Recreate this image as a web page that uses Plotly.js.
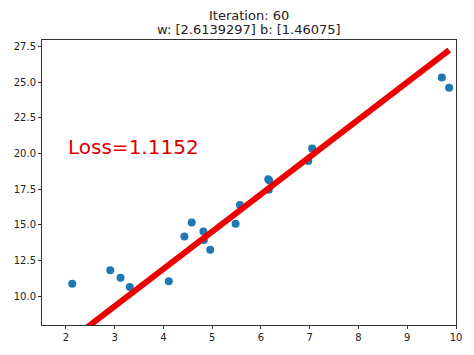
<!DOCTYPE html>
<html>
<head>
<meta charset="utf-8">
<script src="https://cdn.plot.ly/plotly-3.0.1.min.js"></script>
<style>html,body{margin:0;padding:0;background:#fff;}#chart{width:474px;height:355px;}</style>
</head>
<body>
<div id="chart"></div>
<script>
const pointsX = [2.13, 2.91, 3.12, 3.31, 4.11, 4.43, 4.58, 4.82, 4.83, 4.96, 5.48, 5.57, 6.15, 6.17, 6.16, 6.97, 7.05, 9.71, 9.86];
const pointsY = [10.88, 11.83, 11.30, 10.65, 11.06, 14.19, 15.16, 14.53, 13.94, 13.26, 15.07, 16.39, 18.20, 18.10, 17.45, 19.47, 20.35, 25.32, 24.60];
const lineX = [2.13, 9.86];
const lineY = [7.028, 27.234];
const titleLines = ["Iteration: 60", "w: [2.6139297] b: [1.46075]"];
const lossText = "Loss=1.1152";
const lossPos = [2.0, 20.0];
const xTicks = [2, 3, 4, 5, 6, 7, 8, 9, 10];
const yTicks = [10.0, 12.5, 15.0, 17.5, 20.0, 22.5, 25.0, 27.5];

const font = "DejaVu Sans, sans-serif";
const axisCommon = {
  showgrid: false, zeroline: false, showline: true, mirror: true,
  linecolor: '#333', linewidth: 1, ticks: 'outside', ticklen: 3, tickwidth: 1, tickcolor: '#333',
  tickfont: {family: font, size: 10, color: '#222'}
};
const traces = [
  {x: pointsX, y: pointsY, type: 'scatter', mode: 'markers',
   marker: {color: '#1f77b4', size: 8}, hoverinfo: 'none'},
  {x: lineX, y: lineY, type: 'scatter', mode: 'lines',
   line: {color: '#ee0000', width: 6}, hoverinfo: 'none'}
];
const layout = {
  width: 474, height: 355,
  margin: {l: 42, r: 18, t: 40, b: 30},
  paper_bgcolor: '#fff', plot_bgcolor: '#fff',
  showlegend: false,
  xaxis: Object.assign({}, axisCommon, {range: [1.51, 10.0], tickvals: xTicks, ticktext: xTicks.map(String)}),
  yaxis: Object.assign({}, axisCommon, {range: [7.99, 27.94], tickvals: yTicks, ticktext: yTicks.map(v => v.toFixed(1))}),
  annotations: [
    {x: 0.5, y: 1, xref: 'paper', yref: 'paper', text: titleLines[0], showarrow: false,
     xanchor: 'center', yanchor: 'middle', yshift: 25, font: {family: font, size: 13, color: '#222'}},
    {x: 0.5, y: 1, xref: 'paper', yref: 'paper', text: titleLines[1], showarrow: false,
     xanchor: 'center', yanchor: 'middle', yshift: 11, font: {family: font, size: 13, color: '#222'}},
    {x: lossPos[0], y: lossPos[1], xref: 'x', yref: 'y', text: lossText, showarrow: false,
     xanchor: 'left', yanchor: 'bottom', yshift: -8,
     font: {family: font, size: 20, color: '#dd0000'}}
  ]
};
Plotly.newPlot('chart', traces, layout, {displayModeBar: false, staticPlot: true});
</script>
</body>
</html>
